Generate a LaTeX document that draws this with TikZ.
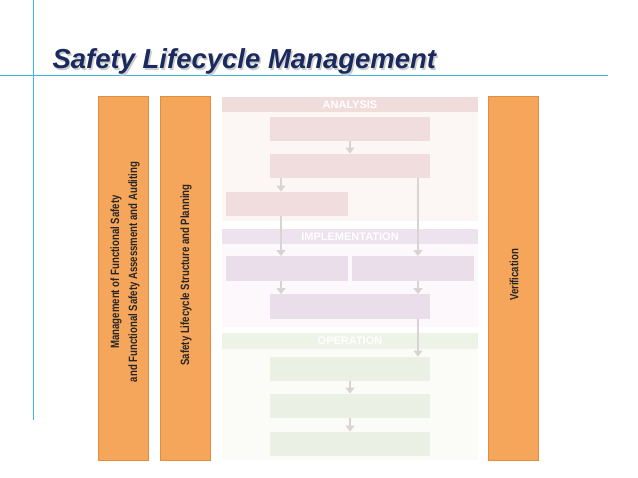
\documentclass[tikz,border=0pt]{standalone}
\usepackage{fontspec}
\setmainfont{Liberation Sans}
\usetikzlibrary{arrows.meta}
\definecolor{navy}{HTML}{1B2A5E}
\definecolor{lineblue}{HTML}{3FB5E5}
\definecolor{orng}{HTML}{F5A65B}
\definecolor{orngd}{HTML}{E08E3F}
\definecolor{apanel}{HTML}{FCF6F5}
\definecolor{ahead}{HTML}{F1DCDC}
\definecolor{abox}{HTML}{F2DDDE}
\definecolor{ipanel}{HTML}{FCF8FB}
\definecolor{ihead}{HTML}{EDE3EE}
\definecolor{ibox}{HTML}{E9DEEA}
\definecolor{opanel}{HTML}{FBFCF8}
\definecolor{ohead}{HTML}{EEF3E8}
\definecolor{obox}{HTML}{EAF0E3}
\definecolor{arr}{HTML}{D9D3D3}
\begin{document}
\begin{tikzpicture}[x=1pt,y=-1pt,
  bar/.style={fill=orng,draw=orngd,line width=0.6pt},
  head/.style={text=white,font=\bfseries\fontsize{11}{11}\selectfont},
  flow/.style={draw=arr,line width=2pt,-{Triangle[length=6pt,width=9pt]}},
  vlab/.style={rotate=90,font=\bfseries\fontsize{12}{18}\selectfont,align=center,text=black!85}]
\useasboundingbox (0,0) rectangle (638,478);
\fill[white] (0,0) rectangle (638,478);
\draw[lineblue,line width=0.7pt] (33,0) -- (33,420);
\draw[lineblue,line width=0.7pt] (0,75) -- (608,75);
\node[anchor=base west,text=gray!40,font=\bfseries\itshape\fontsize{27.5}{28}\selectfont] at (50.5,70.5) {Safety Lifecycle Management};
\node[anchor=base west,text=navy,font=\bfseries\itshape\fontsize{27.5}{28}\selectfont] (title) at (49,69) {Safety Lifecycle Management};
% bars
\draw[bar] (98,96) rectangle (148,460);
\draw[bar] (160,96) rectangle (210,460);
\draw[bar] (488,96) rectangle (538,460);
\node[vlab] (b1) at (125,272) {\scalebox{0.8}[1]{Management of Functional Safety}\\\scalebox{0.8}[1]{and Functional Safety Assessment and Auditing}};
\node[vlab] (b2) at (186,275) {\scalebox{0.8}[1]{Safety Lifecycle Structure and Planning}};
\node[vlab] (b3) at (514,275) {\scalebox{0.8}[1]{Verification}};
% panels
\fill[apanel] (222,97) rectangle (478,221);
\fill[ipanel] (222,229) rectangle (478,327);
\fill[opanel] (222,333) rectangle (478,460);
\node[fill=ahead,minimum width=256pt,minimum height=15pt,inner sep=0,head] (ha) at (350,104.5) {ANALYSIS};
\node[fill=ihead,minimum width=256pt,minimum height=15pt,inner sep=0,head] (hi) at (350,236.5) {IMPLEMENTATION};
\node[fill=ohead,minimum width=256pt,minimum height=16pt,inner sep=0,head] (ho) at (350,341) {OPERATION};
% boxes
\tikzset{bx/.style={minimum height=24.5pt,inner sep=0}}
\node[bx,fill=abox,minimum width=160pt] (a1) at (350,129) {};
\node[bx,fill=abox,minimum width=160pt] (a2) at (350,166) {};
\node[bx,fill=abox,minimum width=122pt] (a3) at (287,204) {};
\node[bx,fill=ibox,minimum width=122pt] (i1) at (287,268.5) {};
\node[bx,fill=ibox,minimum width=122pt] (i2) at (413,268.5) {};
\node[bx,fill=ibox,minimum width=160pt] (i3) at (350,306.5) {};
\node[bx,fill=obox,minimum width=160pt] (o1) at (350,369) {};
\node[bx,fill=obox,minimum width=160pt] (o2) at (350,406) {};
\node[bx,fill=obox,minimum width=160pt] (o3) at (350,444) {};
% arrows
\draw[flow] (a1.south) -- (a2.north);
\draw[flow] (o1.south) -- (o2.north);
\draw[flow] (o2.south) -- (o3.north);
\draw[flow] (a2.south -| 281,0) -- (a3.north -| 281,0);
\draw[flow] (a3.south -| 281,0) -- (i1.north -| 281,0);
\draw[flow] (i1.south -| 281,0) -- (i3.north -| 281,0);
\draw[flow] (a2.south -| 418,0) -- (i2.north -| 418,0);
\draw[flow] (i2.south -| 418,0) -- (i3.north -| 418,0);
\draw[flow] (i3.south -| 418,0) -- (o1.north -| 418,0);
\end{tikzpicture}
\end{document}
